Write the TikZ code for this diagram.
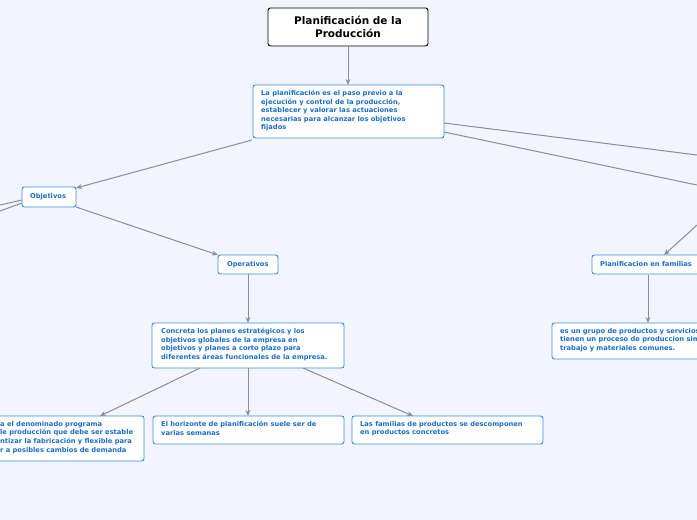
\documentclass[tikz,border=0pt]{standalone}
\usepackage{fontspec}
\usetikzlibrary{arrows.meta}
\setmainfont{DejaVu Sans}
\definecolor{bg}{HTML}{F2F5FE}
\definecolor{txt}{HTML}{1A6FD0}
\definecolor{bord}{HTML}{3A8BE0}
\definecolor{lin}{HTML}{8A8E96}
\begin{document}
\begin{tikzpicture}[x=1pt,y=-1pt,
  box/.style={draw=bord,fill=white,rounded corners=2.5pt,line width=0.9pt},
  lbl/.style={text=txt,font=\bfseries\fontsize{6.7}{8.6}\selectfont,align=left,anchor=north west,inner sep=0pt},
  conn/.style={draw=lin,line width=1pt,-{Stealth[length=6pt,width=5pt]}},
  plain/.style={draw=lin,line width=1pt}]
\useasboundingbox (0,0) rectangle (697,520);
\fill[bg] (0,0) rectangle (697,520);
\clip (0,0) rectangle (697,520);
% boxes
\draw[draw=black,fill=white,rounded corners=2.5pt,line width=0.9pt] (268,8) rectangle (428,46);
\node[font=\bfseries\fontsize{10.5}{12.5}\selectfont,align=center] (t) at (348,27) {Planificación de la\\Producción};
\draw[box] (253,85) rectangle (444,138);
\node[lbl] (m) at (261,90) {La planificación es el paso previo a la\\ejecución y control de la producción,\\establecer y valorar las actuaciones\\necesarias para alcanzar los objetivos\\fijados};
\draw[box] (22,187) rectangle (76,207);
\node[lbl] (o) at (30,193) {Objetivos};
\draw[box] (218,255) rectangle (278,274);
\node[lbl] (op) at (227,261) {Operativos};
\draw[box] (152,323) rectangle (344,368);
\node[lbl] (c) at (161,328) {Concreta los planes estratégicos y los\\objetivos globales de la empresa en\\objetivos y planes a corto plazo para\\diferentes áreas funcionales de la empresa.};
\draw[box] (-50,416) rectangle (144,461);
\node[lbl] (l) at (0,421) {a el denominado programa\\le producción que debe ser estable\\ntizar la fabricación y flexible para\\r a posibles cambios de demanda};
\draw[box] (153,416) rectangle (344,444);
\node[lbl] (h) at (161,421) {El horizonte de planificación suele ser de\\varias semanas};
\draw[box] (352,416) rectangle (543,444);
\node[lbl] (f) at (360,421) {Las familias de productos se descomponen\\en productos concretos};
\draw[box] (592,255) rectangle (720,274);
\node[lbl] (pf) at (600,261) {Planificacion en familias};
\draw[box] (552,323) rectangle (720,359);
\node[lbl] (g) at (560,328) {es un grupo de productos y servicios que\\tienen un proceso de produccion similar,\\trabajo y materiales comunes.};
% connectors
\coordinate (a1) at (348,46); \coordinate (a2) at (348,85);
\draw[conn] (a1) -- (a2);
\coordinate (b1) at (252,140); \coordinate (b2) at (76,188);
\draw[conn] (b1) -- (b2);
\coordinate (r1) at (444,123); \coordinate (r1e) at (697,155);
\coordinate (r2) at (444,132); \coordinate (r2e) at (697,185);
\draw[plain] (r1) -- (r1e); \draw[plain] (r2) -- (r2e);
\coordinate (s1) at (697,225); \coordinate (s2) at (664,255);
\draw[conn] (s1) -- (s2);
\coordinate (p1) at (648,275); \coordinate (p2) at (648,323);
\draw[conn] (p1) -- (p2);
\coordinate (ol1) at (22,203); \coordinate (ol1e) at (0,211);
\coordinate (ol2) at (22,200); \coordinate (ol2e) at (0,205);
\draw[plain] (ol1) -- (ol1e); \draw[plain] (ol2) -- (ol2e);
\coordinate (q1) at (76,207); \coordinate (q2) at (218,255);
\draw[conn] (q1) -- (q2);
\coordinate (u1) at (248,274); \coordinate (u2) at (248,323);
\draw[conn] (u1) -- (u2);
\coordinate (c1) at (200,368); \coordinate (c1e) at (100,416);
\coordinate (c2) at (248,368); \coordinate (c2e) at (248,416);
\coordinate (c3) at (303,368); \coordinate (c3e) at (413,416);
\draw[conn] (c1) -- (c1e); \draw[conn] (c2) -- (c2e); \draw[conn] (c3) -- (c3e);
\end{tikzpicture}
\end{document}
